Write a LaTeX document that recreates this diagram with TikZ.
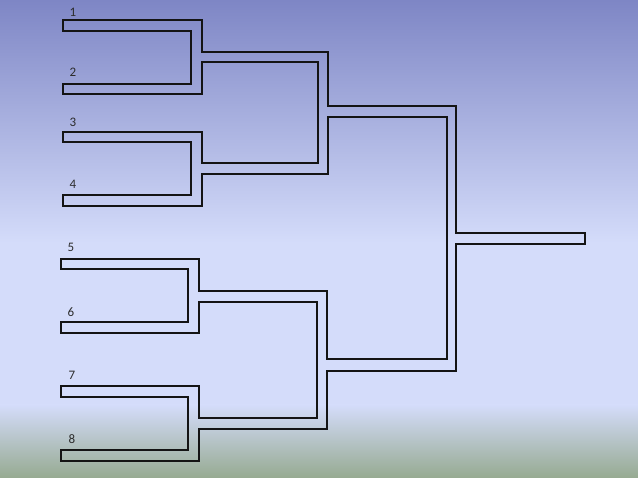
\documentclass[tikz,border=0pt]{standalone}
\usepackage{fontspec}
\setmainfont{Carlito}
\definecolor{bgtop}{HTML}{7E86C5}
\definecolor{bgmid}{HTML}{D4DCFA}
\definecolor{bgbot}{HTML}{96AA91}
\definecolor{ink}{HTML}{141414}
\tikzset{
  pipe/.style={draw=ink, line width=2.2pt, line join=miter},
  seed/.style={font=\fontsize{13}{13}\selectfont, text=ink!90, inner sep=0pt, anchor=center}
}
\begin{document}
\begin{tikzpicture}[x=1pt,y=-1pt]
\useasboundingbox (0,0) rectangle (638,478);
% background
\shade[top color=bgtop, bottom color=bgmid] (0,0) rectangle (638,243);
\fill[bgmid] (0,242.5) rectangle (638,405.5);
\shade[top color=bgmid, bottom color=bgbot] (0,405) rectangle (638,478);
% bracket outline
\draw[pipe] (63,20) -- (202,20) -- (202,52) -- (328,52) -- (328,106) -- (456,106) -- (456,233)
  -- (585,233) -- (585,244) -- (456,244) -- (456,371) -- (327,371) -- (327,429) -- (199,429)
  -- (199,461) -- (61,461) -- (61,450) -- (188,450) -- (188,397) -- (61,397) -- (61,386)
  -- (199,386) -- (199,418) -- (317,418) -- (317,302) -- (199,302) -- (199,333) -- (61,333)
  -- (61,322) -- (188,322) -- (188,269) -- (61,269) -- (61,259) -- (199,259) -- (199,291)
  -- (327,291) -- (327,359) -- (447,359) -- (447,117) -- (328,117) -- (328,174) -- (202,174)
  -- (202,206) -- (63,206) -- (63,195) -- (191,195) -- (191,142) -- (63,142) -- (63,132)
  -- (202,132) -- (202,163) -- (318,163) -- (318,62) -- (202,62) -- (202,94) -- (63,94)
  -- (63,84) -- (191,84) -- (191,31) -- (63,31) -- cycle;
% seeds
\node[seed] (s1) at (73,12) {1};
\node[seed] (s2) at (73,72.5) {2};
\node[seed] (s3) at (73,122) {3};
\node[seed] (s4) at (73,184) {4};
\node[seed] (s5) at (71,247.5) {5};
\node[seed] (s6) at (71,312) {6};
\node[seed] (s7) at (72,375.5) {7};
\node[seed] (s8) at (72,439) {8};
\end{tikzpicture}
\end{document}
